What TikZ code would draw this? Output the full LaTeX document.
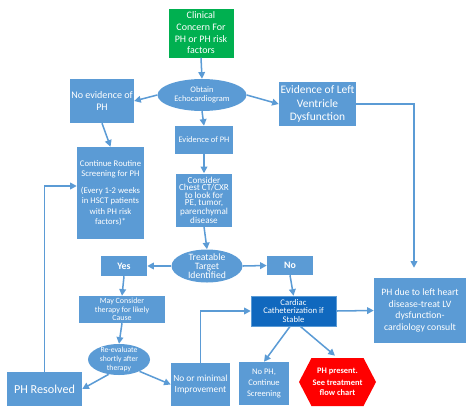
\documentclass[tikz,border=0pt]{standalone}
\usepackage{fontspec}
\setmainfont{Carlito}
\usetikzlibrary{
  shapes.geometric, shapes.symbols, arrows.meta, positioning, calc
}
\definecolor{flowblue}{RGB}{91,155,213}
\definecolor{flowgreen}{RGB}{0,176,80}
\definecolor{flowdark}{RGB}{16,104,190}
\definecolor{flowred}{RGB}{255,0,0}
\tikzset{
  flowbox/.style={
    rectangle, fill=flowblue, text=white, align=center, inner sep=1pt
  },
  flowoval/.style={
    ellipse, fill=flowblue, text=white, align=center, inner sep=0pt
  },
  flowarrow/.style={
    -{Triangle[length=2mm, width=2mm]}, line width=1.3pt, draw=flowblue
  },
}

\begin{document}
\begin{tikzpicture}[x=0.03cm, y=-0.03cm]
  \useasboundingbox (0,0) rectangle (474,414);

  % Start
  \node[flowbox, fill=flowgreen, minimum width=1.95cm, minimum height=1.47cm,
    font=\fontsize{8.5}{10}\selectfont] (concern) at (201,33)
    {Clinical\\Concern For\\PH or PH risk\\factors};
  \node[flowoval, minimum width=2.67cm, minimum height=0.96cm,
    font=\fontsize{7.2}{8}\selectfont] (echo) at (202,95)
    {Obtain\\Echocardiogram};

  % Echo results
  \node[flowbox, minimum width=1.8cm, minimum height=1.32cm,
    font=\fontsize{8.6}{10.2}\selectfont] (noev) at (102,101)
    {No evidence of\\PH};
  \node[flowbox, minimum width=2.31cm, minimum height=1.32cm,
    font=\fontsize{9.8}{11.4}\selectfont] (lvdys) at (317.5,104)
    {Evidence of Left\\Ventricle\\Dysfunction};
  \node[flowbox, minimum width=1.74cm, minimum height=0.84cm,
    font=\fontsize{7.2}{8}\selectfont] (evph) at (204,140)
    {Evidence of PH};
  \node[flowbox, minimum width=1.68cm, minimum height=1.59cm,
    font=\fontsize{7.8}{6.4}\selectfont] (chest) at (204,200)
    {Consider\\Chest CT/CXR\\to look for\\PE, tumor,\\parenchymal\\disease};
  \node[flowoval, inner ysep=-3pt, minimum width=2.13cm, minimum height=0.99cm,
    font=\fontsize{8.3}{7.8}\selectfont] (treat) at (207,266)
    {Treatable\\Target\\Identified};

  % Screening
  \node[flowbox, minimum width=2.01cm, minimum height=2.76cm,
    font=\fontsize{7.4}{9}\selectfont] (screen) at (110.5,193)
    {Continue Routine\\Screening for PH\\[5pt](Every 1-2 weeks\\in HSCT patients\\with PH risk\\factors)*};

  % Yes branch
  \node[flowbox, minimum width=1.38cm, minimum height=0.6cm,
    font=\bfseries\fontsize{8.4}{9}\selectfont] (yes) at (124,266) {Yes};
  \node[flowbox, minimum width=2.58cm, minimum height=0.81cm,
    font=\fontsize{6.8}{7.3}\selectfont] (therapy) at (122,309.5)
    {May Consider\\therapy for likely\\Cause};
  \node[flowoval, inner ysep=-3pt, minimum width=1.86cm, minimum height=0.93cm,
    font=\fontsize{6.6}{7.6}\selectfont] (reeval) at (119,359.5)
    {Re-evaluate\\shortly after\\therapy};
  \node[flowbox, minimum width=2.25cm, minimum height=1.02cm,
    font=\fontsize{10.4}{11}\selectfont] (resolved) at (44.5,389) {PH Resolved};
  \node[flowbox, minimum width=1.77cm, minimum height=1.29cm,
    font=\fontsize{8}{9.6}\selectfont] (minimal) at (200.5,384.5)
    {No or minimal\\Improvement};

  % No branch
  \node[flowbox, minimum width=1.38cm, minimum height=0.57cm,
    font=\bfseries\fontsize{8.4}{9}\selectfont] (no) at (290,265.5) {No};
  \node[flowbox, fill=flowdark, draw=flowblue, minimum width=2.55cm,
    minimum height=0.9cm, font=\fontsize{7.4}{7.6}\selectfont] (cath)
    at (293.5,311) {Cardiac\\Catheterization if\\Stable};
  \node[flowbox, minimum width=1.5cm, minimum height=1.29cm,
    font=\fontsize{7.3}{9}\selectfont] (nophscreen) at (264,383.5)
    {No PH,\\Continue\\Screening};
  \node[signal, signal to=west and east, signal pointer angle=125,
    fill=flowred, text=white, align=center, inner sep=0pt,
    minimum width=2.31cm, minimum height=1.44cm,
    font=\bfseries\fontsize{7.2}{8.2}\selectfont] (phpresent) at (337.5,382)
    {PH present.\\[2pt]See treatment\\flow chart};
  \node[flowbox, minimum width=2.76cm, minimum height=1.95cm,
    font=\fontsize{8.3}{9.8}\selectfont] (phdue) at (420,310.5)
    {PH due to left heart\\disease-treat LV\\dysfunction-\\cardiology consult};

  % Arrows
  \draw[flowarrow] (concern.south) -- (echo.north);
  \draw[flowarrow] (echo.west) -- (noev.east);
  \draw[flowarrow] (echo.east) -- (lvdys.west);
  \draw[flowarrow, shorten >=0.3cm] (lvdys.east)
    -| ([xshift=-0.18cm]phdue.north);
  \draw[flowarrow] (echo.south) -- (evph.north);
  \draw[flowarrow] (evph.south) -- (chest.north);
  \draw[flowarrow] (chest.south) -- (treat.north);
  \draw[flowarrow] (noev.south) -- (screen.north);
  \draw[flowarrow] (resolved.north) |- ([yshift=0.21cm]screen.west);
  \draw[flowarrow] (treat.west) -- (yes.east);
  \draw[flowarrow] (treat.east) -- (no.west);
  \draw[flowarrow] (yes.south) -- (therapy.north);
  \draw[flowarrow] (therapy.south) -- (reeval.north);
  \draw[flowarrow] (reeval.235) -- (resolved.east);
  \draw[flowarrow] (reeval.330) -- (minimal.west);
  \draw[flowarrow] (minimal.north) |- (cath.west);
  \draw[flowarrow] (no.south) -- (cath.north);
  \draw[flowarrow] (cath.east) -- (phdue.west);
  \draw[flowarrow] ([xshift=-0.1cm]cath.south) -- (nophscreen.north);
  \draw[flowarrow, shorten >=0.1cm] ([xshift=0.2cm]cath.south)
    -- (phpresent.north);
\end{tikzpicture}
\end{document}
